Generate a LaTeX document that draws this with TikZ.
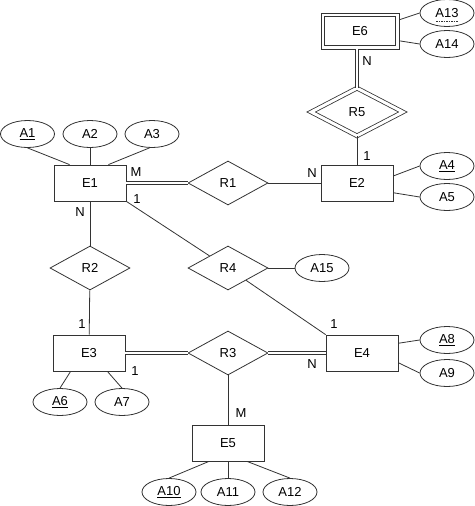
\documentclass[tikz,border=0pt]{standalone}
\usepackage{fontspec}
\setmainfont{Liberation Sans}
\usetikzlibrary{shapes.geometric}
\tikzset{
  entity/.style={draw, minimum width=72pt, minimum height=36pt, inner sep=0pt},
  weakentity/.style={entity, minimum width=78pt, minimum height=36pt},
  relation/.style={draw, diamond, minimum width=80pt, minimum height=44pt, inner sep=0pt},
  weakrelation/.style={relation, double, double distance=3pt, minimum width=92pt, minimum height=48pt},
  attr/.style={draw, ellipse, minimum width=54pt, minimum height=27pt, inner sep=0pt},
  card/.style={inner sep=0pt},
  twoline/.style={double, double distance=2pt}
}
\begin{document}
\begin{tikzpicture}[x=1pt, y=-1pt, line width=.8pt, draw=black!80, font=\fontsize{13}{15}\selectfont]
\useasboundingbox (0,0) rectangle (474,506);
% entities
\node[entity] (e1) at (90,183) {E1};
\node[entity] (e2) at (357,183) {E2};
\node[entity] (e3) at (89,353) {E3};
\node[entity] (e4) at (362,353) {E4};
\node[entity] (e5) at (228,443) {E5};
\node[weakentity] (e6) at (360,31) {E6};
\draw ([xshift=4pt,yshift=-4pt]e6.north west) rectangle ([xshift=-4pt,yshift=4pt]e6.south east);
% relations
\node[relation] (r1) at (228,183) {R1};
\node[relation] (r2) at (90,268) {R2};
\node[relation] (r3) at (228,353) {R3};
\node[relation] (r4) at (228,268) {R4};
\node[weakrelation] (r5) at (357,112) {R5};
% attributes
\node[attr] (a1) at (27.5,134) {\underline{A1}};
\node[attr] (a2) at (90,134) {A2};
\node[attr] (a3) at (152,134) {A3};
\node[attr] (a4) at (447,166) {\underline{A4}};
\node[attr] (a5) at (447,197) {A5};
\node[attr] (a6) at (60,402) {\underline{A6}};
\node[attr] (a7) at (122,402) {A7};
\node[attr] (a8) at (447,340) {\underline{A8}};
\node[attr] (a9) at (447,373) {A9};
\node[attr] (a10) at (169,492) {\underline{A10}};
\node[attr] (a11) at (228,492) {A11};
\node[attr] (a12) at (290,492) {A12};
\node[attr] (a13) at (447,13) {A13};
\node[attr] (a14) at (447,44) {A14};
\node[attr] (a15) at (322,268) {A15};
\draw[dash pattern=on 1.5pt off 1pt, line width=.5pt] ([xshift=-11pt,yshift=-8pt]a13.center) -- ([xshift=11pt,yshift=-8pt]a13.center);

\draw (a1.south) -- (e1.138);
\draw (a2) -- (e1);
\draw (a3.-100) -- (e1.45);
\draw (e2.11) -- (a4.west);
\draw (e2.-15) -- (a5.west);
\draw (e6.16) -- (a13.west);
\draw (e6.-14) -- (a14.west);
\draw (e3.-135) -- (a6.north);
\draw (e3.-45) -- (a7.north);
\draw (e4.15) -- (a8.west);
\draw (e4.-15) -- (a9.west);
\draw (e5.-136) -- (a10.north);
\draw (e5) -- (a11);
\draw (e5.-44) -- (a12.north);
\draw (r4) -- (a15);

% relationships
\draw[twoline] (e1) -- (r1);
\draw (r1) -- (e2);
\draw (e1) -- (r2);
\draw (r2) -- (e3);
\draw (e1.south east) -- (r4);
\draw (r4) -- (e4.north west);
\draw[twoline] (e3) -- (r3);
\draw[twoline] (r3) -- (e4);
\draw (r3) -- (e5);
\draw (r5) -- (e2);
\draw[twoline] (e6.south -| r5) -- (r5.north);

% cardinalities
\node[card] (c1) at (136,172) {M};
\node[card] (c2) at (137,199) {1};
\node[card] (c3) at (312,173) {N};
\node[card] (c4) at (367,61) {N};
\node[card] (c5) at (367,156) {1};
\node[card] (c6) at (80,212) {N};
\node[card] (c7) at (82,324) {1};
\node[card] (c8) at (135,371) {1};
\node[card] (c9) at (334,324) {1};
\node[card] (c10) at (312,364) {N};
\node[card] (c11) at (241,413) {M};
\end{tikzpicture}
\end{document}
